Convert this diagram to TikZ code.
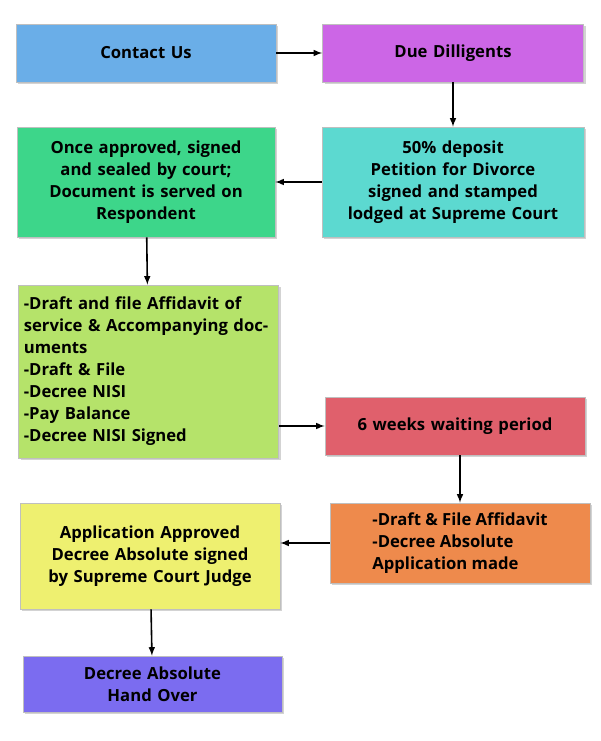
\documentclass[tikz,border=0pt]{standalone}
\usepackage{fontspec}
\setmainfont{Open Sans}
\usetikzlibrary{shadows}
\begin{document}
\begin{tikzpicture}[x=0.75pt,y=-0.75pt,
 box/.style={draw=black!25,line width=0.4pt,drop shadow={shadow xshift=1.5pt,shadow yshift=-1.5pt,opacity=0.35},font=\bfseries\fontsize{12.5}{16.5}\selectfont,align=center,inner sep=0pt},
 arr/.style={-latex,line width=1.2pt}]
\useasboundingbox (0,0) rectangle (600,741);
\definecolor{c1}{HTML}{6AAEE8}\definecolor{c2}{HTML}{CC66E6}\definecolor{c3}{HTML}{5CD9D0}
\definecolor{c4}{HTML}{3DD68A}\definecolor{c5}{HTML}{B5E36A}\definecolor{c6}{HTML}{E0606C}
\definecolor{c7}{HTML}{EE8A4C}\definecolor{c8}{HTML}{EEF070}\definecolor{c9}{HTML}{7B6CF0}
\newcommand\bx[6]{\node[box,fill=#6,minimum width=#3*0.75pt,minimum height=#4*0.75pt,text width=#3*0.75pt-6pt] (#1) at (#2) {#5};}
\bx{a}{146,53}{260}{58}{Contact Us}{c1}
\bx{b}{453,53}{261}{58}{Due Dilligents}{c2}
\bx{c}{453,182}{262}{110}{50\% deposit\\Petition for Divorce\\signed and stamped\\lodged at Supreme Court}{c3}
\bx{d}{146,182}{258}{110}{Once approved, signed\\and sealed by court;\\Document is served on\\Respondent}{c4}
\node[box,fill=c5,minimum width=195pt,minimum height=129.75pt,text width=187pt,align=left] (e) at (148.5,371.5) {-Draft and file Affidavit of service \& Accompanying documents\\-Draft \& File\\-Decree NISI\\-Pay Balance\\-Decree NISI Signed};
\bx{f}{455,426}{260}{58}{6 weeks waiting period}{c6}
\node[box,fill=c7,minimum width=195pt,minimum height=60pt] (g) at (460,543) {\begin{tabular}{@{}l@{}}-Draft \& File Affidavit\\-Decree Absolute\\Application made\end{tabular}};
\bx{h}{150,556}{260}{106}{Application Approved\\Decree Absolute signed\\by Supreme Court Judge}{c8}
\bx{i}{152.5,684}{259}{56}{Decree Absolute\\Hand Over}{c9}
\draw[arr] (a) -- (b);
\draw[arr] (b) -- (c);
\draw[arr] (c) -- (d);
\draw[arr] (d) -- (e);
\draw[arr] (e.east|-f) -- (f);
\draw[arr] (f.south-|g) -- (g);
\draw[arr] (g) -- (g-|h.east);
\draw[arr] (h) -- (i);
\end{tikzpicture}
\end{document}
